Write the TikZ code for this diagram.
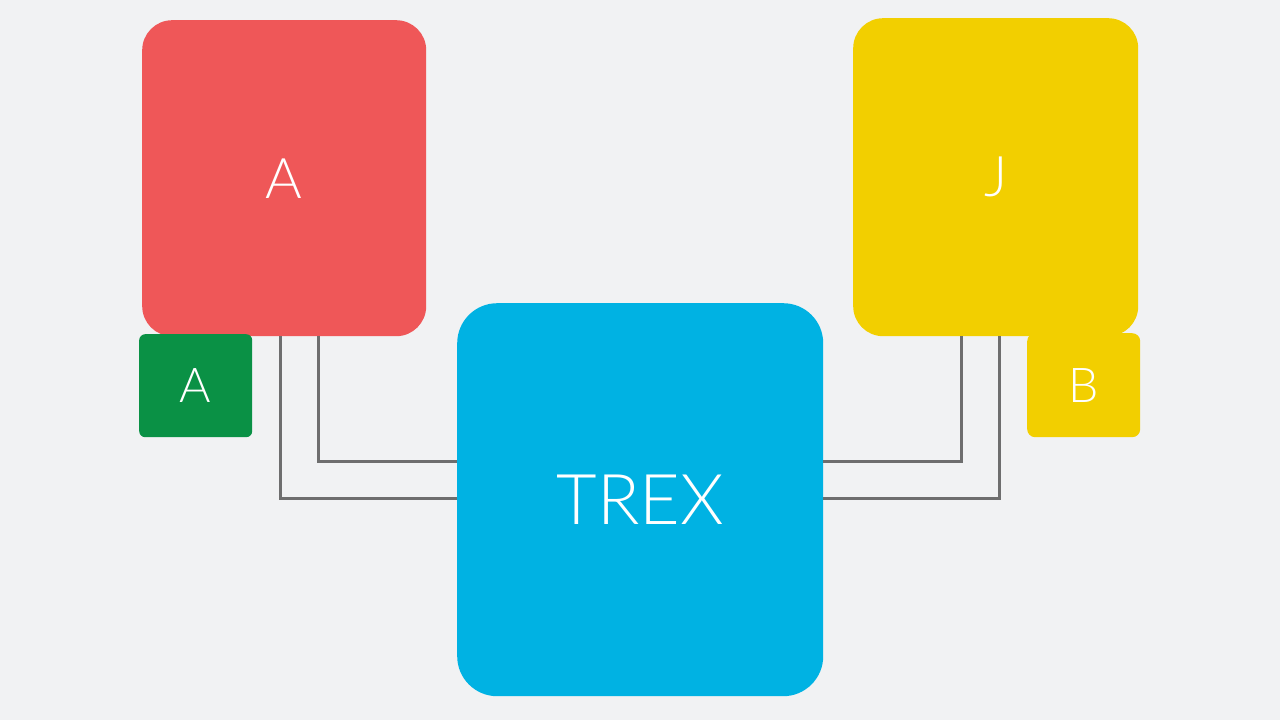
\documentclass[tikz,border=0pt]{standalone}
\usepackage{fontspec}
\setmainfont{Lato Light}
\definecolor{bg}{HTML}{F1F2F3}
\definecolor{cred}{HTML}{EF5758}
\definecolor{cgreen}{HTML}{0A9145}
\definecolor{cblue}{HTML}{00B2E3}
\definecolor{cyellow}{HTML}{F2CF00}
\definecolor{cline}{HTML}{6E6E6E}
\begin{document}
\begin{tikzpicture}[x=1pt,y=-1pt,
  blockbox/.style={draw=none,text=white,inner sep=0pt,anchor=north west},
  wire/.style={draw=cline,line width=3pt}]
\fill[bg] (0,0) rectangle (1280,720);
\useasboundingbox (0,0) rectangle (1280,720);
\node[blockbox,fill=cred,rounded corners=30pt,minimum width=284pt,minimum height=316pt,font=\fontsize{56}{60}\selectfont] (red) at (142,20) {A};
\node[blockbox,fill=cgreen,rounded corners=6pt,minimum width=113pt,minimum height=103pt,font=\fontsize{48}{52}\selectfont] (green) at (139,334) {A};
\node[blockbox,fill=cyellow,rounded corners=30pt,minimum width=285pt,minimum height=318pt,font=\fontsize{56}{60}\selectfont] (yel) at (853,18) {J};
\node[blockbox,fill=cyellow,rounded corners=8pt,minimum width=113pt,minimum height=104pt,font=\fontsize{48}{52}\selectfont] (yelb) at (1027,333) {B};
\node[blockbox,fill=cblue,rounded corners=40pt,minimum width=366pt,minimum height=393pt,font=\fontsize{70}{76}\selectfont] (trex) at (457,303) {TREX};
\coordinate (L1) at (280,498);
\coordinate (L2) at (318,461);
\coordinate (R1) at (961,461);
\coordinate (R2) at (999,498);
\draw[wire] (red.south -| L1) |- (trex.west |- L1);
\draw[wire] (red.south -| L2) |- (trex.west |- L2);
\draw[wire] (trex.east |- R1) -| (yel.south -| R1);
\draw[wire] (trex.east |- R2) -| (yel.south -| R2);
\end{tikzpicture}
\end{document}
